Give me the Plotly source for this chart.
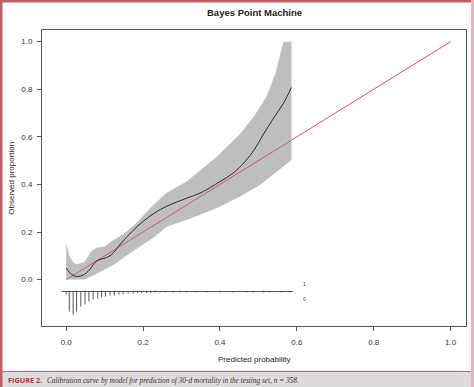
import plotly.graph_objects as go

# ---- data ----
curve_x = [0.000, 0.010, 0.020, 0.030, 0.045, 0.060, 0.075, 0.085, 0.100, 0.117, 0.143, 0.170,
           0.200, 0.230, 0.261, 0.313, 0.350, 0.400, 0.434, 0.465, 0.490, 0.512, 0.540, 0.565, 0.586]
curve_y = [0.048, 0.028, 0.016, 0.013, 0.020, 0.040, 0.072, 0.083, 0.090, 0.104, 0.153, 0.200,
           0.245, 0.280, 0.308, 0.342, 0.365, 0.412, 0.447, 0.496, 0.548, 0.608, 0.680, 0.741, 0.808]

upper_x = [0.000, 0.008, 0.018, 0.026, 0.040, 0.048, 0.065, 0.078, 0.100, 0.117, 0.152, 0.178,
           0.218, 0.261, 0.313, 0.391, 0.452, 0.490, 0.521, 0.545, 0.565, 0.586]
upper_y = [0.153, 0.100, 0.072, 0.065, 0.070, 0.076, 0.118, 0.134, 0.139, 0.160, 0.195, 0.230,
           0.300, 0.365, 0.412, 0.515, 0.612, 0.690, 0.769, 0.870, 1.000, 1.000]

lower_x = [0.000, 0.022, 0.048, 0.074, 0.100, 0.126, 0.160, 0.195, 0.230, 0.261, 0.313, 0.391,
           0.452, 0.504, 0.547, 0.586]
lower_y = [0.000, 0.000, 0.000, 0.020, 0.041, 0.065, 0.104, 0.143, 0.180, 0.222, 0.250, 0.300,
           0.349, 0.398, 0.454, 0.503]

# spike histogram of predicted probabilities (non-events = 0, events = 1)
spike0_x = [0.000, 0.008, 0.018, 0.027, 0.038, 0.049, 0.059, 0.070, 0.082, 0.092, 0.102, 0.114,
            0.125, 0.137, 0.148, 0.161, 0.174, 0.185, 0.196, 0.209, 0.220, 0.231, 0.244, 0.259,
            0.278, 0.296, 0.313, 0.339, 0.365, 0.400, 0.434, 0.469, 0.486, 0.512, 0.530, 0.560, 0.582]
spike0_n = [3, 20, 23, 20, 15, 13, 10, 8, 7, 6, 5, 4,
            4, 3, 3, 2, 2, 1.5, 1.5, 1.5, 1.5, 1, 1, 1,
            1, 1, 1, 1, 1, 1, 1, 1, 1, 1, 1, 1, 1]
spike1_x = [0.008, 0.027, 0.049, 0.070, 0.092, 0.125, 0.174, 0.231, 0.296, 0.400, 0.512]
spike1_n = [1, 1, 1, 1, 1, 1, 1, 1, 1, 1, 1]

x_ticks = [0.0, 0.2, 0.4, 0.6, 0.8, 1.0]
y_ticks = [0.0, 0.2, 0.4, 0.6, 0.8, 1.0]
x_tick_labels = ["0.0", "0.2", "0.4", "0.6", "0.8", "1.0"]
y_tick_labels = ["0.0", "0.2", "0.4", "0.6", "0.8", "1.0"]

title = "Bayes Point Machine"
x_title = "Predicted probability"
y_title = "Observed proportion"
caption_bold = "FIGURE 2."
caption_text = "Calibration curve by model for prediction of 30-d mortality in the testing set, n = 358."

spike_base = -0.05
spike_scale = 0.097 / max(spike0_n)

# ---- figure ----
W, H = 474, 387
L, R, T, B = 42, 8, 30, 61
PW, PH = W - L - R, H - T - B


def px(xp):
    return (xp - L) / PW


def py(yp):
    return (H - B - yp) / PH


fig = go.Figure()

# ideal line
fig.add_trace(go.Scatter(x=[0, 1], y=[0, 1], mode="lines",
                         line=dict(color="#e8485a", width=1), hoverinfo="skip"))

# confidence band
band_x = list(upper_x) + list(reversed(lower_x))
band_y = list(upper_y) + list(reversed(lower_y))
fig.add_trace(go.Scatter(x=band_x, y=band_y, mode="lines", fill="toself",
                         fillcolor="rgba(128,128,128,0.51)", line=dict(width=0),
                         hoverinfo="skip"))

# calibration curve
fig.add_trace(go.Scatter(x=curve_x, y=curve_y, mode="lines", line_shape="spline",
                         line=dict(color="#2a2a2a", width=1), hoverinfo="skip"))

# spike histogram
sx, sy = [], []
for xv, n in zip(spike0_x, spike0_n):
    sx += [xv, xv, None]
    sy += [spike_base, spike_base - n * spike_scale, None]
for xv, n in zip(spike1_x, spike1_n):
    sx += [xv, xv, None]
    sy += [spike_base, spike_base + n * spike_scale, None]
base_lo = min(spike0_x) - 0.012
base_hi = max(spike0_x) + 0.008
sx += [base_lo, base_hi]
sy += [spike_base, spike_base]
fig.add_trace(go.Scatter(x=sx, y=sy, mode="lines", line=dict(color="#555555", width=1),
                         hoverinfo="skip"))

ann = [
    dict(text="<b>" + title + "</b>", x=0.5, y=py(12), xref="paper", yref="paper",
         showarrow=False, font=dict(size=9.5, color="#222", family="Liberation Sans"),
         xanchor="center", yanchor="middle"),
    dict(text=x_title, x=px(254), y=py(359), xref="paper", yref="paper", showarrow=False,
         font=dict(size=8, color="#222", family="Liberation Sans"),
         xanchor="center", yanchor="middle"),
    dict(text=y_title, x=px(10.7), y=py(178), xref="paper", yref="paper", showarrow=False,
         textangle=-90, font=dict(size=8, color="#222", family="Liberation Sans"),
         xanchor="center", yanchor="middle"),
    dict(text="1", x=0.62, y=-0.019, xref="x", yref="y", showarrow=False,
         font=dict(size=5, color="#333", family="Liberation Sans")),
    dict(text="0", x=0.62, y=-0.082, xref="x", yref="y", showarrow=False,
         font=dict(size=5, color="#333", family="Liberation Sans")),
    dict(text="<b>" + caption_bold + "</b>", x=px(6), y=py(380), xref="paper", yref="paper",
         showarrow=False, xanchor="left", yanchor="middle",
         font=dict(size=7.3, color="#c0303c", family="Open Sans")),
    dict(text="<i>" + caption_text + "</i>", x=px(45), y=py(380.5), xref="paper", yref="paper",
         showarrow=False, xanchor="left", yanchor="middle",
         font=dict(size=7.3, color="#333", family="Liberation Serif")),
]

shapes = [
    # caption bar
    dict(type="rect", xref="paper", yref="paper", x0=px(0), x1=px(W), y0=py(H), y1=py(372),
         fillcolor="#dcdcdc", line=dict(width=0), layer="below"),
    dict(type="line", xref="paper", yref="paper", x0=px(0), x1=px(W), y0=py(371.5), y1=py(371.5),
         line=dict(color="#c86470", width=1)),
    # frame
    dict(type="rect", xref="paper", yref="paper", x0=px(0), x1=px(2.5), y0=py(H), y1=py(0),
         fillcolor="#c65a66", line=dict(width=0)),
    dict(type="rect", xref="paper", yref="paper", x0=px(0), x1=px(W), y0=py(2.5), y1=py(0),
         fillcolor="#c65a66", line=dict(width=0)),
    dict(type="rect", xref="paper", yref="paper", x0=px(471), x1=px(W), y0=py(H), y1=py(0),
         fillcolor="#e3b5ba", line=dict(width=0)),
]

fig.update_layout(
    width=W, height=H,
    margin=dict(l=L, r=R, t=T, b=B, pad=0),
    paper_bgcolor="white", plot_bgcolor="white",
    showlegend=False,
    annotations=ann, shapes=shapes,
    xaxis=dict(range=[-0.063, 1.040], tickvals=x_ticks, ticktext=x_tick_labels,
               showgrid=False, zeroline=False, showline=True, mirror=True,
               linecolor="#555", linewidth=1, ticks="outside", ticklen=4, tickcolor="#555",
               tickfont=dict(size=8, color="#333", family="Liberation Sans"),
               ticklabelstandoff=4),
    yaxis=dict(range=[-0.195, 1.049], tickvals=y_ticks, ticktext=y_tick_labels,
               showgrid=False, zeroline=False, showline=True, mirror=True,
               linecolor="#555", linewidth=1, ticks="outside", ticklen=4, tickcolor="#555",
               tickfont=dict(size=8, color="#333", family="Liberation Sans"),
               ticklabelstandoff=3),
)

fig.write_html("out.html", config={"displayModeBar": False},
               post_script="document.body.style.margin='0px';document.body.style.overflow='hidden';")
